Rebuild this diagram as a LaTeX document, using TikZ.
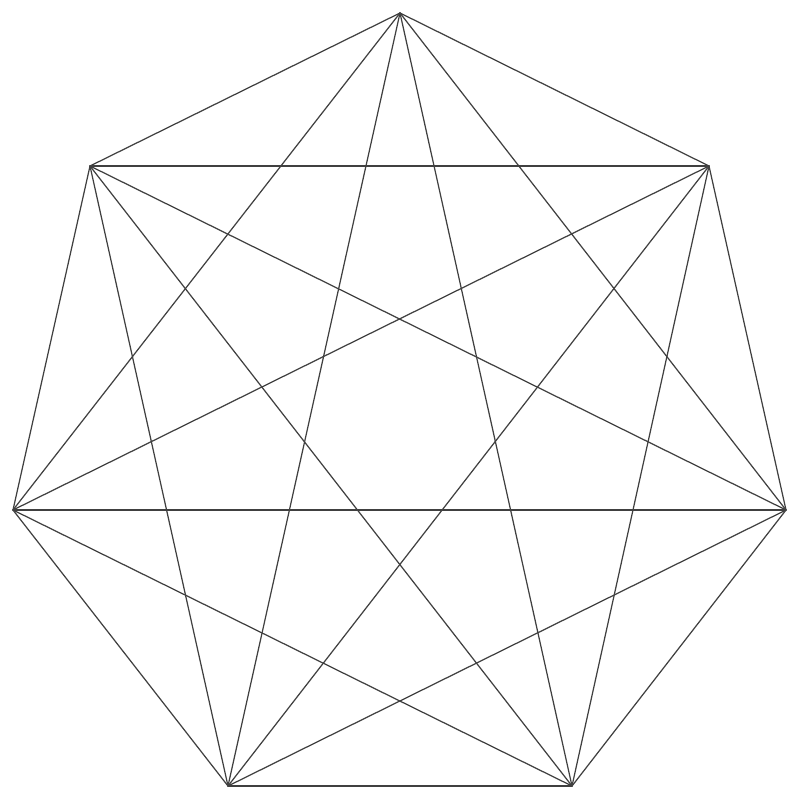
\documentclass[tikz,border=0pt]{standalone}
\begin{document}
\begin{tikzpicture}[x=0.01cm,y=-0.01cm, line join=round, line cap=round]
            \tikzset{edge/.style={draw=black!75,line width=0.35pt}}
            \useasboundingbox (0,0) rectangle (800,800);
            \coordinate (v1) at (400,13);
            \coordinate (v2) at (709,166);
            \coordinate (v3) at (786,510);
            \coordinate (v4) at (572,786);
            \coordinate (v5) at (228,786);
            \coordinate (v6) at (13,510);
            \coordinate (v7) at (90,166);
            \foreach \i in {1,...,6}{
                \pgfmathtruncatemacro{\s}{\i+1}
                \foreach \j in {\s,...,7}{
                    \draw[edge] (v\i) -- (v\j);
                }
            }
        \end{tikzpicture}
\end{document}
